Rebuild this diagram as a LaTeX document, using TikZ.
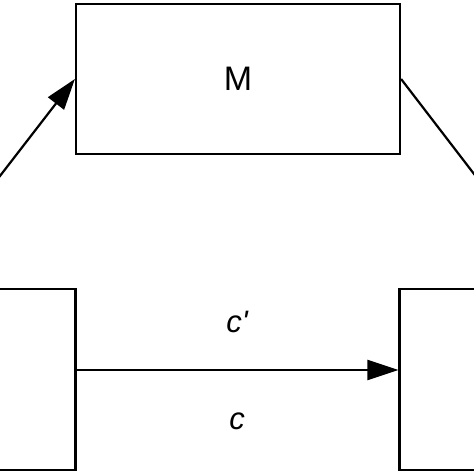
\documentclass[tikz,border=0pt]{standalone}
\usepackage{fontspec}
\setmainfont{Liberation Sans}
\newfontfamily\lblfont{Liberation Sans}[Ligatures=TeXOff]
\usetikzlibrary{arrows.meta}
\begin{document}
\begin{tikzpicture}[x=1pt,y=-1pt,
  box/.style={draw,line width=2.2pt,inner sep=0pt,minimum width=324pt,minimum height=150pt},
  lowbox/.style={draw,line width=2.2pt,inner sep=0pt,minimum width=324pt,minimum height=181pt},
  conn/.style={line width=2.2pt,-{Triangle[length=31pt,width=20pt]}},
  lbl/.style={font=\lblfont\fontsize{31}{36}\selectfont\itshape}]
\useasboundingbox (0,0) rectangle (474,474);
\clip (0,0) rectangle (474,474);
\fill[white] (0,0) rectangle (474,474);
\node[box,font=\fontsize{34}{40}\selectfont] (M) at (238,79) {M};
\node[lowbox] (X) at (-86.5,379.5) {};
\node[lowbox] (Y) at (561.5,379.5) {};
\draw[conn] (X.north) -- (M.west);
\draw[conn] (M.east) -- (Y.north);
\draw[conn] (X.east |- 0,370) coordinate (xa) -- (Y.west |- 0,370) coordinate (ya);
\node[lbl] (cp) at (237,322) {c'};
\node[lbl] (c) at (237,421) {c};
\end{tikzpicture}
\end{document}
